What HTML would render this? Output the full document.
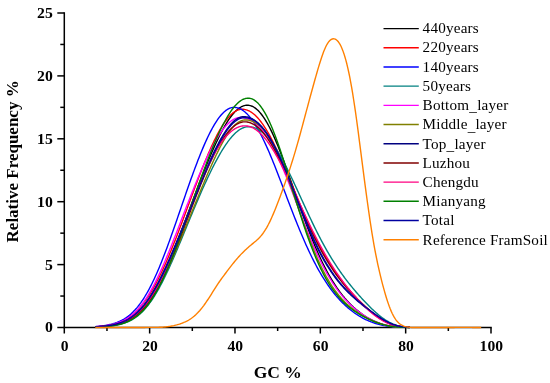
<!DOCTYPE html>
<html lang="en"><head><meta charset="utf-8"><title>GC % relative frequency</title>
<style>
html,body{margin:0;padding:0;background:#fff}
body{width:550px;height:383px;overflow:hidden}
svg{display:block}
</style></head><body>
<svg width="550" height="383" viewBox="0 0 550 383">
<rect width="550" height="383" fill="#fff"/>
<g stroke="#000" stroke-width="1.5" fill="none" stroke-linecap="butt">
<path d="M64.30,12.25 V328.25"/>
<path d="M63.55,327.50 H491.75"/>
<path d="M64.30,327.50 h-7"/>
<path d="M64.30,296.05 h-4"/>
<path d="M64.30,264.60 h-7"/>
<path d="M64.30,233.15 h-4"/>
<path d="M64.30,201.70 h-7"/>
<path d="M64.30,170.25 h-4"/>
<path d="M64.30,138.80 h-7"/>
<path d="M64.30,107.35 h-4"/>
<path d="M64.30,75.90 h-7"/>
<path d="M64.30,44.45 h-4"/>
<path d="M64.30,13.00 h-7"/>
<path d="M64.30,327.50 v6"/>
<path d="M106.97,327.50 v3.5"/>
<path d="M149.64,327.50 v6"/>
<path d="M192.31,327.50 v3.5"/>
<path d="M234.98,327.50 v6"/>
<path d="M277.65,327.50 v3.5"/>
<path d="M320.32,327.50 v6"/>
<path d="M362.99,327.50 v3.5"/>
<path d="M405.66,327.50 v6"/>
<path d="M448.33,327.50 v3.5"/>
<path d="M491.00,327.50 v6"/>
</g>
<g fill="none" stroke-width="1.4" stroke-linejoin="round">
<path stroke="#000000" d="M95.45,326.91 L96.42,326.86 L97.38,326.80 L98.35,326.75 L99.32,326.68 L100.28,326.62 L101.25,326.55 L102.22,326.47 L103.18,326.39 L104.15,326.30 L105.12,326.21 L106.08,326.11 L107.05,326.00 L108.02,325.88 L108.98,325.76 L109.95,325.62 L110.92,325.47 L111.88,325.32 L112.85,325.15 L113.82,324.96 L114.78,324.76 L115.75,324.55 L116.72,324.32 L117.68,324.07 L118.65,323.81 L119.62,323.52 L120.58,323.22 L121.55,322.90 L122.52,322.55 L123.49,322.18 L124.45,321.78 L125.42,321.36 L126.39,320.92 L127.35,320.44 L128.32,319.94 L129.29,319.40 L130.25,318.83 L131.22,318.23 L132.19,317.60 L133.15,316.93 L134.12,316.22 L135.09,315.48 L136.05,314.70 L137.02,313.88 L137.99,313.01 L138.95,312.11 L139.92,311.16 L140.89,310.17 L141.85,309.14 L142.82,308.06 L143.79,306.94 L144.75,305.77 L145.72,304.55 L146.69,303.29 L147.65,301.98 L148.62,300.63 L149.59,299.22 L150.55,297.77 L151.52,296.27 L152.49,294.73 L153.45,293.14 L154.42,291.50 L155.39,289.81 L156.35,288.08 L157.32,286.31 L158.29,284.49 L159.26,282.63 L160.22,280.72 L161.19,278.77 L162.16,276.79 L163.12,274.76 L164.09,272.69 L165.06,270.59 L166.02,268.45 L166.99,266.27 L167.96,264.07 L168.92,261.83 L169.89,259.55 L170.86,257.25 L171.82,254.92 L172.79,252.57 L173.76,250.19 L174.72,247.78 L175.69,245.36 L176.66,242.91 L177.62,240.45 L178.59,237.96 L179.56,235.47 L180.52,232.95 L181.49,230.42 L182.46,227.89 L183.42,225.34 L184.39,222.78 L185.36,220.22 L186.32,217.65 L187.29,215.07 L188.26,212.50 L189.22,209.92 L190.19,207.34 L191.16,204.76 L192.12,202.19 L193.09,199.61 L194.06,197.05 L195.03,194.49 L195.99,191.93 L196.96,189.39 L197.93,186.86 L198.89,184.34 L199.86,181.83 L200.83,179.33 L201.79,176.85 L202.76,174.39 L203.73,171.95 L204.69,169.52 L205.66,167.12 L206.63,164.73 L207.59,162.38 L208.56,160.04 L209.53,157.73 L210.49,155.45 L211.46,153.20 L212.43,150.98 L213.39,148.79 L214.36,146.64 L215.33,144.52 L216.29,142.44 L217.26,140.39 L218.23,138.39 L219.19,136.42 L220.16,134.51 L221.13,132.63 L222.09,130.80 L223.06,129.02 L224.03,127.30 L224.99,125.62 L225.96,124.00 L226.93,122.43 L227.90,120.92 L228.86,119.47 L229.83,118.08 L230.80,116.75 L231.76,115.49 L232.73,114.29 L233.70,113.17 L234.66,112.11 L235.63,111.12 L236.60,110.20 L237.56,109.36 L238.53,108.59 L239.50,107.90 L240.46,107.28 L241.43,106.74 L242.40,106.29 L243.36,105.91 L244.33,105.61 L245.30,105.40 L246.26,105.26 L247.23,105.21 L248.20,105.24 L249.16,105.36 L250.13,105.57 L251.10,105.86 L252.06,106.24 L253.03,106.71 L254.00,107.26 L254.96,107.90 L255.93,108.62 L256.90,109.43 L257.86,110.33 L258.83,111.30 L259.80,112.36 L260.76,113.51 L261.73,114.73 L262.70,116.03 L263.67,117.42 L264.63,118.88 L265.60,120.41 L266.57,122.02 L267.53,123.71 L268.50,125.47 L269.47,127.29 L270.43,129.19 L271.40,131.15 L272.37,133.17 L273.33,135.26 L274.30,137.41 L275.27,139.61 L276.23,141.87 L277.20,144.18 L278.17,146.53 L279.13,148.94 L280.10,151.39 L281.07,153.88 L282.03,156.41 L283.00,158.98 L283.97,161.58 L284.93,164.21 L285.90,166.86 L286.87,169.54 L287.83,172.24 L288.80,174.96 L289.77,177.70 L290.73,180.44 L291.70,183.20 L292.67,185.96 L293.63,188.73 L294.60,191.50 L295.57,194.27 L296.53,197.03 L297.50,199.79 L298.47,202.53 L299.44,205.27 L300.40,207.99 L301.37,210.70 L302.34,213.39 L303.30,216.05 L304.27,218.70 L305.24,221.32 L306.20,223.92 L307.17,226.49 L308.14,229.03 L309.10,231.54 L310.07,234.02 L311.04,236.46 L312.00,238.88 L312.97,241.25 L313.94,243.59 L314.90,245.90 L315.87,248.17 L316.84,250.39 L317.80,252.58 L318.77,254.73 L319.74,256.85 L320.70,258.92 L321.67,260.95 L322.64,262.94 L323.60,264.89 L324.57,266.80 L325.54,268.67 L326.50,270.50 L327.47,272.29 L328.44,274.05 L329.40,275.76 L330.37,277.43 L331.34,279.07 L332.31,280.66 L333.27,282.22 L334.24,283.74 L335.21,285.23 L336.17,286.67 L337.14,288.09 L338.11,289.47 L339.07,290.81 L340.04,292.12 L341.01,293.40 L341.97,294.64 L342.94,295.85 L343.91,297.03 L344.87,298.19 L345.84,299.31 L346.81,300.40 L347.77,301.46 L348.74,302.49 L349.71,303.50 L350.67,304.48 L351.64,305.44 L352.61,306.36 L353.57,307.27 L354.54,308.14 L355.51,309.00 L356.47,309.82 L357.44,310.63 L358.41,311.41 L359.37,312.17 L360.34,312.91 L361.31,313.63 L362.27,314.32 L363.24,314.99 L364.21,315.65 L365.17,316.28 L366.14,316.89 L367.11,317.48 L368.08,318.05 L369.04,318.60 L370.01,319.13 L370.98,319.65 L371.94,320.14 L372.91,320.61 L373.88,321.07 L374.84,321.50 L375.81,321.92 L376.78,322.32 L377.74,322.70 L378.71,323.06 L379.68,323.41 L380.64,323.73 L381.61,324.04 L382.58,324.34 L383.54,324.61 L384.51,324.87 L385.48,325.11 L386.44,325.34 L387.41,325.55 L388.38,325.75 L389.34,325.93 L390.31,326.10 L391.28,326.26 L392.24,326.40 L393.21,326.53 L394.18,326.65 L395.14,326.76 L396.11,326.85 L397.08,326.94 L398.04,327.01 L399.01,327.08 L399.98,327.14 L400.94,327.19 L401.91,327.23 L402.88,327.27 L403.85,327.30 L404.81,327.33 L405.78,327.36 L406.75,327.38 L407.71,327.40 L408.68,327.41 L409.65,327.43"/>
<path stroke="#ff0000" d="M95.45,326.77 L96.42,326.70 L97.38,326.62 L98.35,326.54 L99.32,326.46 L100.28,326.36 L101.25,326.26 L102.22,326.15 L103.18,326.04 L104.15,325.91 L105.12,325.77 L106.08,325.63 L107.05,325.47 L108.02,325.30 L108.98,325.12 L109.95,324.93 L110.92,324.72 L111.88,324.50 L112.85,324.26 L113.82,324.00 L114.78,323.73 L115.75,323.44 L116.72,323.13 L117.68,322.80 L118.65,322.44 L119.62,322.07 L120.58,321.67 L121.55,321.25 L122.52,320.80 L123.49,320.33 L124.45,319.83 L125.42,319.30 L126.39,318.74 L127.35,318.15 L128.32,317.53 L129.29,316.88 L130.25,316.19 L131.22,315.47 L132.19,314.72 L133.15,313.93 L134.12,313.10 L135.09,312.24 L136.05,311.33 L137.02,310.39 L137.99,309.41 L138.95,308.39 L139.92,307.32 L140.89,306.21 L141.85,305.07 L142.82,303.87 L143.79,302.64 L144.75,301.36 L145.72,300.04 L146.69,298.68 L147.65,297.27 L148.62,295.81 L149.59,294.32 L150.55,292.77 L151.52,291.19 L152.49,289.56 L153.45,287.89 L154.42,286.17 L155.39,284.41 L156.35,282.61 L157.32,280.77 L158.29,278.88 L159.26,276.96 L160.22,274.99 L161.19,272.99 L162.16,270.95 L163.12,268.87 L164.09,266.75 L165.06,264.60 L166.02,262.41 L166.99,260.19 L167.96,257.94 L168.92,255.65 L169.89,253.34 L170.86,251.00 L171.82,248.63 L172.79,246.23 L173.76,243.81 L174.72,241.37 L175.69,238.90 L176.66,236.41 L177.62,233.91 L178.59,231.38 L179.56,228.84 L180.52,226.29 L181.49,223.72 L182.46,221.14 L183.42,218.55 L184.39,215.95 L185.36,213.35 L186.32,210.74 L187.29,208.12 L188.26,205.51 L189.22,202.89 L190.19,200.27 L191.16,197.66 L192.12,195.06 L193.09,192.45 L194.06,189.86 L195.03,187.28 L195.99,184.71 L196.96,182.15 L197.93,179.61 L198.89,177.08 L199.86,174.57 L200.83,172.09 L201.79,169.62 L202.76,167.18 L203.73,164.77 L204.69,162.38 L205.66,160.02 L206.63,157.69 L207.59,155.40 L208.56,153.14 L209.53,150.92 L210.49,148.73 L211.46,146.59 L212.43,144.48 L213.39,142.43 L214.36,140.41 L215.33,138.45 L216.29,136.53 L217.26,134.67 L218.23,132.86 L219.19,131.10 L220.16,129.40 L221.13,127.76 L222.09,126.17 L223.06,124.65 L224.03,123.19 L224.99,121.80 L225.96,120.47 L226.93,119.21 L227.90,118.02 L228.86,116.90 L229.83,115.85 L230.80,114.88 L231.76,113.98 L232.73,113.15 L233.70,112.40 L234.66,111.73 L235.63,111.14 L236.60,110.62 L237.56,110.19 L238.53,109.84 L239.50,109.57 L240.46,109.37 L241.43,109.27 L242.40,109.24 L243.36,109.28 L244.33,109.40 L245.30,109.58 L246.26,109.83 L247.23,110.14 L248.20,110.53 L249.16,110.98 L250.13,111.50 L251.10,112.08 L252.06,112.74 L253.03,113.46 L254.00,114.24 L254.96,115.09 L255.93,116.01 L256.90,116.99 L257.86,118.03 L258.83,119.14 L259.80,120.31 L260.76,121.54 L261.73,122.83 L262.70,124.17 L263.67,125.58 L264.63,127.04 L265.60,128.56 L266.57,130.14 L267.53,131.76 L268.50,133.44 L269.47,135.17 L270.43,136.94 L271.40,138.76 L272.37,140.63 L273.33,142.53 L274.30,144.48 L275.27,146.47 L276.23,148.49 L277.20,150.55 L278.17,152.64 L279.13,154.77 L280.10,156.92 L281.07,159.09 L282.03,161.30 L283.00,163.52 L283.97,165.76 L284.93,168.03 L285.90,170.30 L286.87,172.60 L287.83,174.90 L288.80,177.21 L289.77,179.53 L290.73,181.86 L291.70,184.19 L292.67,186.52 L293.63,188.85 L294.60,191.17 L295.57,193.50 L296.53,195.81 L297.50,198.12 L298.47,200.42 L299.44,202.71 L300.40,204.99 L301.37,207.25 L302.34,209.50 L303.30,211.73 L304.27,213.95 L305.24,216.14 L306.20,218.32 L307.17,220.48 L308.14,222.61 L309.10,224.72 L310.07,226.80 L311.04,228.87 L312.00,230.90 L312.97,232.92 L313.94,234.90 L314.90,236.86 L315.87,238.80 L316.84,240.70 L317.80,242.58 L318.77,244.43 L319.74,246.25 L320.70,248.05 L321.67,249.82 L322.64,251.56 L323.60,253.27 L324.57,254.96 L325.54,256.62 L326.50,258.25 L327.47,259.85 L328.44,261.43 L329.40,262.98 L330.37,264.51 L331.34,266.01 L332.31,267.49 L333.27,268.94 L334.24,270.37 L335.21,271.77 L336.17,273.15 L337.14,274.51 L338.11,275.85 L339.07,277.17 L340.04,278.46 L341.01,279.74 L341.97,281.00 L342.94,282.23 L343.91,283.45 L344.87,284.66 L345.84,285.84 L346.81,287.01 L347.77,288.16 L348.74,289.29 L349.71,290.41 L350.67,291.52 L351.64,292.61 L352.61,293.69 L353.57,294.75 L354.54,295.80 L355.51,296.83 L356.47,297.86 L357.44,298.87 L358.41,299.87 L359.37,300.85 L360.34,301.82 L361.31,302.79 L362.27,303.73 L363.24,304.67 L364.21,305.59 L365.17,306.50 L366.14,307.40 L367.11,308.28 L368.08,309.15 L369.04,310.00 L370.01,310.84 L370.98,311.67 L371.94,312.47 L372.91,313.26 L373.88,314.04 L374.84,314.79 L375.81,315.53 L376.78,316.25 L377.74,316.94 L378.71,317.62 L379.68,318.27 L380.64,318.91 L381.61,319.52 L382.58,320.10 L383.54,320.66 L384.51,321.20 L385.48,321.72 L386.44,322.20 L387.41,322.67 L388.38,323.11 L389.34,323.52 L390.31,323.90 L391.28,324.27 L392.24,324.60 L393.21,324.92 L394.18,325.21 L395.14,325.47 L396.11,325.71 L397.08,325.94 L398.04,326.14 L399.01,326.32 L399.98,326.48 L400.94,326.63 L401.91,326.76 L402.88,326.87 L403.85,326.97 L404.81,327.05 L405.78,327.12 L406.75,327.18 L407.71,327.24 L408.68,327.28 L409.65,327.32"/>
<path stroke="#0000ff" d="M95.45,326.60 L96.42,326.52 L97.38,326.43 L98.35,326.34 L99.32,326.24 L100.28,326.14 L101.25,326.02 L102.22,325.90 L103.18,325.77 L104.15,325.63 L105.12,325.48 L106.08,325.32 L107.05,325.15 L108.02,324.97 L108.98,324.77 L109.95,324.55 L110.92,324.32 L111.88,324.07 L112.85,323.81 L113.82,323.52 L114.78,323.22 L115.75,322.89 L116.72,322.54 L117.68,322.16 L118.65,321.76 L119.62,321.33 L120.58,320.88 L121.55,320.40 L122.52,319.88 L123.49,319.34 L124.45,318.76 L125.42,318.14 L126.39,317.49 L127.35,316.80 L128.32,316.08 L129.29,315.31 L130.25,314.51 L131.22,313.66 L132.19,312.76 L133.15,311.83 L134.12,310.84 L135.09,309.81 L136.05,308.73 L137.02,307.61 L137.99,306.43 L138.95,305.20 L139.92,303.93 L140.89,302.60 L141.85,301.21 L142.82,299.78 L143.79,298.29 L144.75,296.75 L145.72,295.16 L146.69,293.51 L147.65,291.81 L148.62,290.06 L149.59,288.25 L150.55,286.39 L151.52,284.48 L152.49,282.52 L153.45,280.50 L154.42,278.44 L155.39,276.33 L156.35,274.17 L157.32,271.96 L158.29,269.71 L159.26,267.42 L160.22,265.08 L161.19,262.70 L162.16,260.28 L163.12,257.82 L164.09,255.33 L165.06,252.80 L166.02,250.24 L166.99,247.64 L167.96,245.02 L168.92,242.37 L169.89,239.70 L170.86,237.00 L171.82,234.28 L172.79,231.54 L173.76,228.78 L174.72,226.01 L175.69,223.22 L176.66,220.43 L177.62,217.62 L178.59,214.81 L179.56,212.00 L180.52,209.18 L181.49,206.36 L182.46,203.54 L183.42,200.73 L184.39,197.92 L185.36,195.12 L186.32,192.33 L187.29,189.55 L188.26,186.79 L189.22,184.04 L190.19,181.31 L191.16,178.60 L192.12,175.92 L193.09,173.25 L194.06,170.62 L195.03,168.01 L195.99,165.43 L196.96,162.89 L197.93,160.37 L198.89,157.90 L199.86,155.46 L200.83,153.06 L201.79,150.70 L202.76,148.39 L203.73,146.12 L204.69,143.90 L205.66,141.72 L206.63,139.60 L207.59,137.53 L208.56,135.51 L209.53,133.55 L210.49,131.65 L211.46,129.81 L212.43,128.03 L213.39,126.31 L214.36,124.66 L215.33,123.07 L216.29,121.55 L217.26,120.10 L218.23,118.72 L219.19,117.41 L220.16,116.18 L221.13,115.03 L222.09,113.94 L223.06,112.94 L224.03,112.02 L224.99,111.18 L225.96,110.42 L226.93,109.74 L227.90,109.14 L228.86,108.63 L229.83,108.20 L230.80,107.86 L231.76,107.61 L232.73,107.44 L233.70,107.36 L234.66,107.36 L235.63,107.44 L236.60,107.59 L237.56,107.82 L238.53,108.12 L239.50,108.49 L240.46,108.94 L241.43,109.46 L242.40,110.06 L243.36,110.73 L244.33,111.47 L245.30,112.28 L246.26,113.16 L247.23,114.11 L248.20,115.14 L249.16,116.23 L250.13,117.39 L251.10,118.62 L252.06,119.92 L253.03,121.28 L254.00,122.70 L254.96,124.19 L255.93,125.74 L256.90,127.36 L257.86,129.03 L258.83,130.76 L259.80,132.54 L260.76,134.38 L261.73,136.27 L262.70,138.22 L263.67,140.21 L264.63,142.25 L265.60,144.33 L266.57,146.46 L267.53,148.63 L268.50,150.84 L269.47,153.09 L270.43,155.37 L271.40,157.69 L272.37,160.04 L273.33,162.41 L274.30,164.81 L275.27,167.24 L276.23,169.69 L277.20,172.15 L278.17,174.64 L279.13,177.14 L280.10,179.65 L281.07,182.17 L282.03,184.71 L283.00,187.24 L283.97,189.78 L284.93,192.33 L285.90,194.87 L286.87,197.41 L287.83,199.95 L288.80,202.48 L289.77,205.01 L290.73,207.52 L291.70,210.02 L292.67,212.51 L293.63,214.99 L294.60,217.44 L295.57,219.88 L296.53,222.31 L297.50,224.70 L298.47,227.08 L299.44,229.44 L300.40,231.77 L301.37,234.07 L302.34,236.35 L303.30,238.60 L304.27,240.82 L305.24,243.01 L306.20,245.17 L307.17,247.30 L308.14,249.40 L309.10,251.47 L310.07,253.50 L311.04,255.50 L312.00,257.47 L312.97,259.41 L313.94,261.31 L314.90,263.18 L315.87,265.01 L316.84,266.81 L317.80,268.58 L318.77,270.31 L319.74,272.00 L320.70,273.67 L321.67,275.30 L322.64,276.89 L323.60,278.45 L324.57,279.98 L325.54,281.48 L326.50,282.94 L327.47,284.37 L328.44,285.77 L329.40,287.13 L330.37,288.47 L331.34,289.77 L332.31,291.05 L333.27,292.29 L334.24,293.50 L335.21,294.69 L336.17,295.85 L337.14,296.97 L338.11,298.07 L339.07,299.15 L340.04,300.19 L341.01,301.21 L341.97,302.20 L342.94,303.17 L343.91,304.11 L344.87,305.03 L345.84,305.93 L346.81,306.80 L347.77,307.64 L348.74,308.47 L349.71,309.27 L350.67,310.05 L351.64,310.80 L352.61,311.54 L353.57,312.25 L354.54,312.95 L355.51,313.62 L356.47,314.27 L357.44,314.91 L358.41,315.52 L359.37,316.12 L360.34,316.69 L361.31,317.25 L362.27,317.79 L363.24,318.31 L364.21,318.81 L365.17,319.30 L366.14,319.76 L367.11,320.22 L368.08,320.65 L369.04,321.07 L370.01,321.47 L370.98,321.85 L371.94,322.22 L372.91,322.57 L373.88,322.91 L374.84,323.23 L375.81,323.53 L376.78,323.82 L377.74,324.10 L378.71,324.36 L379.68,324.61 L380.64,324.85 L381.61,325.07 L382.58,325.27 L383.54,325.47 L384.51,325.65 L385.48,325.82 L386.44,325.98 L387.41,326.13 L388.38,326.27 L389.34,326.39 L390.31,326.51 L391.28,326.62 L392.24,326.72 L393.21,326.81 L394.18,326.89 L395.14,326.96 L396.11,327.03 L397.08,327.08 L398.04,327.14 L399.01,327.18 L399.98,327.22 L400.94,327.26 L401.91,327.29 L402.88,327.32 L403.85,327.34 L404.81,327.36 L405.78,327.38 L406.75,327.40 L407.71,327.41 L408.68,327.43 L409.65,327.44"/>
<path stroke="#008080" d="M95.45,327.04 L96.42,327.01 L97.38,326.97 L98.35,326.92 L99.32,326.88 L100.28,326.83 L101.25,326.78 L102.22,326.72 L103.18,326.66 L104.15,326.60 L105.12,326.53 L106.08,326.45 L107.05,326.37 L108.02,326.29 L108.98,326.19 L109.95,326.09 L110.92,325.98 L111.88,325.86 L112.85,325.73 L113.82,325.59 L114.78,325.44 L115.75,325.27 L116.72,325.09 L117.68,324.90 L118.65,324.69 L119.62,324.46 L120.58,324.22 L121.55,323.96 L122.52,323.68 L123.49,323.38 L124.45,323.06 L125.42,322.72 L126.39,322.35 L127.35,321.95 L128.32,321.53 L129.29,321.08 L130.25,320.61 L131.22,320.10 L132.19,319.56 L133.15,318.99 L134.12,318.38 L135.09,317.74 L136.05,317.06 L137.02,316.34 L137.99,315.59 L138.95,314.80 L139.92,313.96 L140.89,313.08 L141.85,312.16 L142.82,311.20 L143.79,310.19 L144.75,309.14 L145.72,308.04 L146.69,306.90 L147.65,305.70 L148.62,304.47 L149.59,303.18 L150.55,301.85 L151.52,300.48 L152.49,299.05 L153.45,297.58 L154.42,296.06 L155.39,294.50 L156.35,292.90 L157.32,291.24 L158.29,289.55 L159.26,287.81 L160.22,286.03 L161.19,284.21 L162.16,282.35 L163.12,280.45 L164.09,278.52 L165.06,276.55 L166.02,274.55 L166.99,272.51 L167.96,270.44 L168.92,268.34 L169.89,266.22 L170.86,264.06 L171.82,261.89 L172.79,259.69 L173.76,257.47 L174.72,255.22 L175.69,252.97 L176.66,250.69 L177.62,248.40 L178.59,246.10 L179.56,243.79 L180.52,241.46 L181.49,239.13 L182.46,236.79 L183.42,234.45 L184.39,232.10 L185.36,229.76 L186.32,227.41 L187.29,225.06 L188.26,222.71 L189.22,220.37 L190.19,218.03 L191.16,215.70 L192.12,213.38 L193.09,211.06 L194.06,208.75 L195.03,206.46 L195.99,204.17 L196.96,201.90 L197.93,199.64 L198.89,197.40 L199.86,195.17 L200.83,192.96 L201.79,190.77 L202.76,188.59 L203.73,186.43 L204.69,184.30 L205.66,182.18 L206.63,180.09 L207.59,178.02 L208.56,175.97 L209.53,173.95 L210.49,171.96 L211.46,169.99 L212.43,168.05 L213.39,166.14 L214.36,164.26 L215.33,162.40 L216.29,160.59 L217.26,158.80 L218.23,157.05 L219.19,155.33 L220.16,153.65 L221.13,152.01 L222.09,150.41 L223.06,148.85 L224.03,147.33 L224.99,145.85 L225.96,144.42 L226.93,143.03 L227.90,141.69 L228.86,140.40 L229.83,139.16 L230.80,137.96 L231.76,136.83 L232.73,135.74 L233.70,134.71 L234.66,133.74 L235.63,132.83 L236.60,131.97 L237.56,131.18 L238.53,130.45 L239.50,129.78 L240.46,129.17 L241.43,128.63 L242.40,128.16 L243.36,127.75 L244.33,127.41 L245.30,127.14 L246.26,126.93 L247.23,126.80 L248.20,126.73 L249.16,126.73 L250.13,126.79 L251.10,126.90 L252.06,127.07 L253.03,127.29 L254.00,127.57 L254.96,127.91 L255.93,128.30 L256.90,128.74 L257.86,129.24 L258.83,129.80 L259.80,130.41 L260.76,131.08 L261.73,131.80 L262.70,132.58 L263.67,133.41 L264.63,134.30 L265.60,135.24 L266.57,136.23 L267.53,137.28 L268.50,138.38 L269.47,139.54 L270.43,140.74 L271.40,142.00 L272.37,143.30 L273.33,144.66 L274.30,146.06 L275.27,147.51 L276.23,149.01 L277.20,150.55 L278.17,152.13 L279.13,153.76 L280.10,155.43 L281.07,157.14 L282.03,158.88 L283.00,160.66 L283.97,162.47 L284.93,164.32 L285.90,166.20 L286.87,168.11 L287.83,170.04 L288.80,172.00 L289.77,173.98 L290.73,175.99 L291.70,178.02 L292.67,180.06 L293.63,182.12 L294.60,184.19 L295.57,186.27 L296.53,188.37 L297.50,190.47 L298.47,192.58 L299.44,194.70 L300.40,196.81 L301.37,198.93 L302.34,201.05 L303.30,203.16 L304.27,205.28 L305.24,207.38 L306.20,209.48 L307.17,211.57 L308.14,213.65 L309.10,215.72 L310.07,217.77 L311.04,219.81 L312.00,221.84 L312.97,223.85 L313.94,225.84 L314.90,227.82 L315.87,229.77 L316.84,231.71 L317.80,233.62 L318.77,235.52 L319.74,237.39 L320.70,239.24 L321.67,241.07 L322.64,242.88 L323.60,244.66 L324.57,246.42 L325.54,248.15 L326.50,249.86 L327.47,251.55 L328.44,253.21 L329.40,254.85 L330.37,256.47 L331.34,258.06 L332.31,259.63 L333.27,261.17 L334.24,262.69 L335.21,264.19 L336.17,265.67 L337.14,267.13 L338.11,268.56 L339.07,269.98 L340.04,271.37 L341.01,272.74 L341.97,274.10 L342.94,275.43 L343.91,276.75 L344.87,278.05 L345.84,279.33 L346.81,280.59 L347.77,281.84 L348.74,283.07 L349.71,284.29 L350.67,285.49 L351.64,286.68 L352.61,287.86 L353.57,289.02 L354.54,290.17 L355.51,291.31 L356.47,292.43 L357.44,293.55 L358.41,294.65 L359.37,295.74 L360.34,296.82 L361.31,297.89 L362.27,298.95 L363.24,299.99 L364.21,301.03 L365.17,302.05 L366.14,303.07 L367.11,304.07 L368.08,305.06 L369.04,306.03 L370.01,307.00 L370.98,307.95 L371.94,308.88 L372.91,309.80 L373.88,310.71 L374.84,311.59 L375.81,312.46 L376.78,313.31 L377.74,314.15 L378.71,314.96 L379.68,315.75 L380.64,316.51 L381.61,317.26 L382.58,317.98 L383.54,318.67 L384.51,319.34 L385.48,319.98 L386.44,320.59 L387.41,321.17 L388.38,321.73 L389.34,322.25 L390.31,322.75 L391.28,323.21 L392.24,323.65 L393.21,324.06 L394.18,324.43 L395.14,324.78 L396.11,325.10 L397.08,325.40 L398.04,325.66 L399.01,325.91 L399.98,326.12 L400.94,326.32 L401.91,326.49 L402.88,326.65 L403.85,326.78 L404.81,326.90 L405.78,327.00 L406.75,327.08 L407.71,327.16 L408.68,327.22 L409.65,327.27"/>
<path stroke="#ff00ff" d="M95.45,326.67 L96.42,326.61 L97.38,326.53 L98.35,326.46 L99.32,326.37 L100.28,326.28 L101.25,326.19 L102.22,326.09 L103.18,325.98 L104.15,325.86 L105.12,325.74 L106.08,325.60 L107.05,325.46 L108.02,325.31 L108.98,325.14 L109.95,324.96 L110.92,324.77 L111.88,324.56 L112.85,324.34 L113.82,324.09 L114.78,323.84 L115.75,323.56 L116.72,323.26 L117.68,322.94 L118.65,322.60 L119.62,322.23 L120.58,321.84 L121.55,321.42 L122.52,320.98 L123.49,320.51 L124.45,320.00 L125.42,319.47 L126.39,318.90 L127.35,318.30 L128.32,317.67 L129.29,316.99 L130.25,316.28 L131.22,315.54 L132.19,314.75 L133.15,313.92 L134.12,313.05 L135.09,312.13 L136.05,311.17 L137.02,310.17 L137.99,309.12 L138.95,308.03 L139.92,306.89 L140.89,305.70 L141.85,304.46 L142.82,303.17 L143.79,301.84 L144.75,300.46 L145.72,299.03 L146.69,297.55 L147.65,296.02 L148.62,294.44 L149.59,292.82 L150.55,291.15 L151.52,289.43 L152.49,287.66 L153.45,285.85 L154.42,284.00 L155.39,282.10 L156.35,280.16 L157.32,278.18 L158.29,276.16 L159.26,274.10 L160.22,272.00 L161.19,269.87 L162.16,267.70 L163.12,265.50 L164.09,263.26 L165.06,261.00 L166.02,258.71 L166.99,256.39 L167.96,254.05 L168.92,251.69 L169.89,249.30 L170.86,246.90 L171.82,244.47 L172.79,242.03 L173.76,239.58 L174.72,237.11 L175.69,234.63 L176.66,232.15 L177.62,229.65 L178.59,227.15 L179.56,224.64 L180.52,222.13 L181.49,219.62 L182.46,217.11 L183.42,214.61 L184.39,212.10 L185.36,209.60 L186.32,207.10 L187.29,204.61 L188.26,202.14 L189.22,199.67 L190.19,197.21 L191.16,194.76 L192.12,192.33 L193.09,189.91 L194.06,187.51 L195.03,185.13 L195.99,182.76 L196.96,180.42 L197.93,178.10 L198.89,175.80 L199.86,173.52 L200.83,171.27 L201.79,169.04 L202.76,166.84 L203.73,164.67 L204.69,162.53 L205.66,160.43 L206.63,158.35 L207.59,156.31 L208.56,154.30 L209.53,152.33 L210.49,150.40 L211.46,148.51 L212.43,146.65 L213.39,144.84 L214.36,143.08 L215.33,141.36 L216.29,139.69 L217.26,138.06 L218.23,136.49 L219.19,134.96 L220.16,133.49 L221.13,132.08 L222.09,130.72 L223.06,129.41 L224.03,128.17 L224.99,126.99 L225.96,125.87 L226.93,124.81 L227.90,123.82 L228.86,122.90 L229.83,122.04 L230.80,121.26 L231.76,120.54 L232.73,119.89 L233.70,119.32 L234.66,118.82 L235.63,118.40 L236.60,118.05 L237.56,117.78 L238.53,117.58 L239.50,117.46 L240.46,117.41 L241.43,117.43 L242.40,117.50 L243.36,117.62 L244.33,117.79 L245.30,118.00 L246.26,118.27 L247.23,118.58 L248.20,118.95 L249.16,119.36 L250.13,119.83 L251.10,120.35 L252.06,120.92 L253.03,121.55 L254.00,122.23 L254.96,122.96 L255.93,123.75 L256.90,124.60 L257.86,125.50 L258.83,126.46 L259.80,127.48 L260.76,128.56 L261.73,129.69 L262.70,130.88 L263.67,132.14 L264.63,133.45 L265.60,134.82 L266.57,136.24 L267.53,137.73 L268.50,139.27 L269.47,140.87 L270.43,142.53 L271.40,144.24 L272.37,146.01 L273.33,147.83 L274.30,149.71 L275.27,151.63 L276.23,153.61 L277.20,155.63 L278.17,157.70 L279.13,159.82 L280.10,161.98 L281.07,164.18 L282.03,166.43 L283.00,168.70 L283.97,171.02 L284.93,173.37 L285.90,175.74 L286.87,178.15 L287.83,180.58 L288.80,183.04 L289.77,185.51 L290.73,188.00 L291.70,190.51 L292.67,193.03 L293.63,195.57 L294.60,198.11 L295.57,200.65 L296.53,203.20 L297.50,205.75 L298.47,208.29 L299.44,210.83 L300.40,213.37 L301.37,215.89 L302.34,218.40 L303.30,220.90 L304.27,223.38 L305.24,225.85 L306.20,228.29 L307.17,230.71 L308.14,233.11 L309.10,235.48 L310.07,237.83 L311.04,240.15 L312.00,242.44 L312.97,244.69 L313.94,246.92 L314.90,249.11 L315.87,251.27 L316.84,253.39 L317.80,255.48 L318.77,257.53 L319.74,259.55 L320.70,261.52 L321.67,263.46 L322.64,265.36 L323.60,267.23 L324.57,269.05 L325.54,270.84 L326.50,272.58 L327.47,274.29 L328.44,275.97 L329.40,277.60 L330.37,279.20 L331.34,280.75 L332.31,282.28 L333.27,283.76 L334.24,285.21 L335.21,286.62 L336.17,288.00 L337.14,289.34 L338.11,290.65 L339.07,291.93 L340.04,293.18 L341.01,294.39 L341.97,295.57 L342.94,296.72 L343.91,297.84 L344.87,298.93 L345.84,299.99 L346.81,301.03 L347.77,302.03 L348.74,303.01 L349.71,303.97 L350.67,304.90 L351.64,305.80 L352.61,306.68 L353.57,307.54 L354.54,308.37 L355.51,309.18 L356.47,309.97 L357.44,310.74 L358.41,311.49 L359.37,312.21 L360.34,312.92 L361.31,313.60 L362.27,314.27 L363.24,314.92 L364.21,315.55 L365.17,316.16 L366.14,316.75 L367.11,317.33 L368.08,317.88 L369.04,318.42 L370.01,318.94 L370.98,319.45 L371.94,319.93 L372.91,320.40 L373.88,320.85 L374.84,321.29 L375.81,321.71 L376.78,322.11 L377.74,322.49 L378.71,322.86 L379.68,323.21 L380.64,323.55 L381.61,323.87 L382.58,324.17 L383.54,324.45 L384.51,324.72 L385.48,324.98 L386.44,325.21 L387.41,325.44 L388.38,325.64 L389.34,325.84 L390.31,326.02 L391.28,326.18 L392.24,326.33 L393.21,326.47 L394.18,326.60 L395.14,326.71 L396.11,326.82 L397.08,326.91 L398.04,326.99 L399.01,327.06 L399.98,327.12 L400.94,327.18 L401.91,327.22 L402.88,327.26 L403.85,327.30 L404.81,327.33 L405.78,327.36 L406.75,327.38 L407.71,327.40 L408.68,327.41 L409.65,327.43"/>
<path stroke="#808000" d="M95.45,326.97 L96.42,326.93 L97.38,326.88 L98.35,326.83 L99.32,326.78 L100.28,326.72 L101.25,326.66 L102.22,326.60 L103.18,326.53 L104.15,326.46 L105.12,326.38 L106.08,326.30 L107.05,326.21 L108.02,326.12 L108.98,326.01 L109.95,325.90 L110.92,325.78 L111.88,325.64 L112.85,325.50 L113.82,325.34 L114.78,325.17 L115.75,324.99 L116.72,324.79 L117.68,324.58 L118.65,324.35 L119.62,324.10 L120.58,323.84 L121.55,323.55 L122.52,323.24 L123.49,322.91 L124.45,322.56 L125.42,322.18 L126.39,321.78 L127.35,321.35 L128.32,320.89 L129.29,320.40 L130.25,319.89 L131.22,319.33 L132.19,318.75 L133.15,318.13 L134.12,317.48 L135.09,316.79 L136.05,316.06 L137.02,315.29 L137.99,314.49 L138.95,313.64 L139.92,312.75 L140.89,311.82 L141.85,310.85 L142.82,309.83 L143.79,308.77 L144.75,307.67 L145.72,306.52 L146.69,305.32 L147.65,304.08 L148.62,302.80 L149.59,301.47 L150.55,300.09 L151.52,298.67 L152.49,297.21 L153.45,295.70 L154.42,294.15 L155.39,292.55 L156.35,290.92 L157.32,289.24 L158.29,287.52 L159.26,285.77 L160.22,283.97 L161.19,282.14 L162.16,280.27 L163.12,278.37 L164.09,276.43 L165.06,274.47 L166.02,272.47 L166.99,270.44 L167.96,268.38 L168.92,266.29 L169.89,264.18 L170.86,262.04 L171.82,259.89 L172.79,257.70 L173.76,255.50 L174.72,253.28 L175.69,251.04 L176.66,248.79 L177.62,246.52 L178.59,244.23 L179.56,241.94 L180.52,239.63 L181.49,237.30 L182.46,234.97 L183.42,232.64 L184.39,230.29 L185.36,227.93 L186.32,225.58 L187.29,223.21 L188.26,220.84 L189.22,218.47 L190.19,216.10 L191.16,213.72 L192.12,211.35 L193.09,208.98 L194.06,206.60 L195.03,204.23 L195.99,201.87 L196.96,199.50 L197.93,197.15 L198.89,194.80 L199.86,192.45 L200.83,190.11 L201.79,187.79 L202.76,185.47 L203.73,183.16 L204.69,180.87 L205.66,178.59 L206.63,176.32 L207.59,174.07 L208.56,171.84 L209.53,169.63 L210.49,167.44 L211.46,165.27 L212.43,163.12 L213.39,161.00 L214.36,158.91 L215.33,156.85 L216.29,154.82 L217.26,152.82 L218.23,150.86 L219.19,148.93 L220.16,147.05 L221.13,145.21 L222.09,143.41 L223.06,141.66 L224.03,139.96 L224.99,138.31 L225.96,136.72 L226.93,135.18 L227.90,133.71 L228.86,132.29 L229.83,130.94 L230.80,129.66 L231.76,128.45 L232.73,127.31 L233.70,126.24 L234.66,125.25 L235.63,124.34 L236.60,123.51 L237.56,122.76 L238.53,122.10 L239.50,121.52 L240.46,121.03 L241.43,120.63 L242.40,120.32 L243.36,120.10 L244.33,119.97 L245.30,119.93 L246.26,119.96 L247.23,120.04 L248.20,120.17 L249.16,120.35 L250.13,120.58 L251.10,120.87 L252.06,121.21 L253.03,121.60 L254.00,122.05 L254.96,122.56 L255.93,123.12 L256.90,123.74 L257.86,124.43 L258.83,125.17 L259.80,125.98 L260.76,126.85 L261.73,127.79 L262.70,128.79 L263.67,129.86 L264.63,131.00 L265.60,132.20 L266.57,133.48 L267.53,134.82 L268.50,136.24 L269.47,137.72 L270.43,139.28 L271.40,140.91 L272.37,142.60 L273.33,144.37 L274.30,146.20 L275.27,148.11 L276.23,150.07 L277.20,152.11 L278.17,154.20 L279.13,156.36 L280.10,158.58 L281.07,160.86 L282.03,163.19 L283.00,165.57 L283.97,168.01 L284.93,170.49 L285.90,173.02 L286.87,175.58 L287.83,178.19 L288.80,180.83 L289.77,183.50 L290.73,186.20 L291.70,188.93 L292.67,191.67 L293.63,194.43 L294.60,197.21 L295.57,199.99 L296.53,202.79 L297.50,205.58 L298.47,208.37 L299.44,211.16 L300.40,213.94 L301.37,216.71 L302.34,219.47 L303.30,222.21 L304.27,224.92 L305.24,227.62 L306.20,230.28 L307.17,232.92 L308.14,235.53 L309.10,238.10 L310.07,240.64 L311.04,243.14 L312.00,245.60 L312.97,248.02 L313.94,250.40 L314.90,252.73 L315.87,255.01 L316.84,257.26 L317.80,259.45 L318.77,261.59 L319.74,263.69 L320.70,265.74 L321.67,267.74 L322.64,269.69 L323.60,271.59 L324.57,273.44 L325.54,275.25 L326.50,277.00 L327.47,278.71 L328.44,280.36 L329.40,281.97 L330.37,283.54 L331.34,285.06 L332.31,286.53 L333.27,287.96 L334.24,289.35 L335.21,290.69 L336.17,291.99 L337.14,293.25 L338.11,294.48 L339.07,295.66 L340.04,296.81 L341.01,297.92 L341.97,299.00 L342.94,300.04 L343.91,301.05 L344.87,302.03 L345.84,302.97 L346.81,303.89 L347.77,304.78 L348.74,305.65 L349.71,306.48 L350.67,307.29 L351.64,308.08 L352.61,308.85 L353.57,309.59 L354.54,310.31 L355.51,311.01 L356.47,311.69 L357.44,312.35 L358.41,312.99 L359.37,313.62 L360.34,314.22 L361.31,314.81 L362.27,315.39 L363.24,315.95 L364.21,316.50 L365.17,317.03 L366.14,317.55 L367.11,318.05 L368.08,318.54 L369.04,319.02 L370.01,319.48 L370.98,319.93 L371.94,320.37 L372.91,320.79 L373.88,321.21 L374.84,321.61 L375.81,321.99 L376.78,322.37 L377.74,322.73 L378.71,323.07 L379.68,323.40 L380.64,323.72 L381.61,324.03 L382.58,324.32 L383.54,324.60 L384.51,324.86 L385.48,325.11 L386.44,325.34 L387.41,325.56 L388.38,325.76 L389.34,325.95 L390.31,326.13 L391.28,326.29 L392.24,326.44 L393.21,326.58 L394.18,326.70 L395.14,326.81 L396.11,326.91 L397.08,327.00 L398.04,327.07 L399.01,327.14 L399.98,327.19 L400.94,327.24 L401.91,327.28 L402.88,327.32 L403.85,327.35 L404.81,327.37 L405.78,327.39 L406.75,327.41 L407.71,327.43 L408.68,327.44 L409.65,327.45"/>
<path stroke="#000080" d="M95.45,326.82 L96.42,326.76 L97.38,326.70 L98.35,326.63 L99.32,326.56 L100.28,326.49 L101.25,326.41 L102.22,326.32 L103.18,326.23 L104.15,326.13 L105.12,326.02 L106.08,325.91 L107.05,325.79 L108.02,325.65 L108.98,325.51 L109.95,325.36 L110.92,325.19 L111.88,325.01 L112.85,324.82 L113.82,324.61 L114.78,324.39 L115.75,324.15 L116.72,323.89 L117.68,323.61 L118.65,323.31 L119.62,323.00 L120.58,322.66 L121.55,322.30 L122.52,321.91 L123.49,321.50 L124.45,321.06 L125.42,320.60 L126.39,320.10 L127.35,319.58 L128.32,319.02 L129.29,318.43 L130.25,317.81 L131.22,317.16 L132.19,316.47 L133.15,315.74 L134.12,314.98 L135.09,314.18 L136.05,313.33 L137.02,312.45 L137.99,311.53 L138.95,310.57 L139.92,309.56 L140.89,308.51 L141.85,307.42 L142.82,306.29 L143.79,305.11 L144.75,303.88 L145.72,302.62 L146.69,301.31 L147.65,299.95 L148.62,298.55 L149.59,297.11 L150.55,295.62 L151.52,294.09 L152.49,292.52 L153.45,290.90 L154.42,289.24 L155.39,287.54 L156.35,285.81 L157.32,284.03 L158.29,282.21 L159.26,280.36 L160.22,278.47 L161.19,276.54 L162.16,274.58 L163.12,272.59 L164.09,270.56 L165.06,268.50 L166.02,266.42 L166.99,264.30 L167.96,262.16 L168.92,260.00 L169.89,257.80 L170.86,255.59 L171.82,253.35 L172.79,251.09 L173.76,248.82 L174.72,246.52 L175.69,244.21 L176.66,241.88 L177.62,239.54 L178.59,237.19 L179.56,234.82 L180.52,232.44 L181.49,230.05 L182.46,227.66 L183.42,225.26 L184.39,222.85 L185.36,220.44 L186.32,218.02 L187.29,215.60 L188.26,213.18 L189.22,210.76 L190.19,208.34 L191.16,205.92 L192.12,203.51 L193.09,201.09 L194.06,198.69 L195.03,196.28 L195.99,193.89 L196.96,191.50 L197.93,189.13 L198.89,186.76 L199.86,184.41 L200.83,182.07 L201.79,179.74 L202.76,177.43 L203.73,175.13 L204.69,172.85 L205.66,170.60 L206.63,168.36 L207.59,166.15 L208.56,163.96 L209.53,161.79 L210.49,159.65 L211.46,157.54 L212.43,155.47 L213.39,153.42 L214.36,151.41 L215.33,149.43 L216.29,147.49 L217.26,145.59 L218.23,143.73 L219.19,141.92 L220.16,140.15 L221.13,138.43 L222.09,136.76 L223.06,135.14 L224.03,133.58 L224.99,132.07 L225.96,130.62 L226.93,129.23 L227.90,127.91 L228.86,126.64 L229.83,125.45 L230.80,124.32 L231.76,123.27 L232.73,122.28 L233.70,121.37 L234.66,120.54 L235.63,119.78 L236.60,119.11 L237.56,118.51 L238.53,117.99 L239.50,117.56 L240.46,117.21 L241.43,116.95 L242.40,116.77 L243.36,116.67 L244.33,116.66 L245.30,116.72 L246.26,116.83 L247.23,117.00 L248.20,117.23 L249.16,117.51 L250.13,117.86 L251.10,118.27 L252.06,118.74 L253.03,119.26 L254.00,119.85 L254.96,120.50 L255.93,121.22 L256.90,121.99 L257.86,122.83 L258.83,123.72 L259.80,124.69 L260.76,125.71 L261.73,126.80 L262.70,127.95 L263.67,129.16 L264.63,130.44 L265.60,131.77 L266.57,133.17 L267.53,134.63 L268.50,136.15 L269.47,137.73 L270.43,139.36 L271.40,141.06 L272.37,142.81 L273.33,144.61 L274.30,146.47 L275.27,148.38 L276.23,150.34 L277.20,152.35 L278.17,154.40 L279.13,156.50 L280.10,158.64 L281.07,160.82 L282.03,163.03 L283.00,165.28 L283.97,167.57 L284.93,169.88 L285.90,172.23 L286.87,174.59 L287.83,176.98 L288.80,179.39 L289.77,181.82 L290.73,184.26 L291.70,186.71 L292.67,189.17 L293.63,191.64 L294.60,194.11 L295.57,196.58 L296.53,199.05 L297.50,201.51 L298.47,203.97 L299.44,206.42 L300.40,208.85 L301.37,211.28 L302.34,213.69 L303.30,216.08 L304.27,218.45 L305.24,220.80 L306.20,223.12 L307.17,225.42 L308.14,227.69 L309.10,229.94 L310.07,232.15 L311.04,234.34 L312.00,236.49 L312.97,238.61 L313.94,240.70 L314.90,242.75 L315.87,244.77 L316.84,246.75 L317.80,248.70 L318.77,250.61 L319.74,252.48 L320.70,254.31 L321.67,256.11 L322.64,257.87 L323.60,259.59 L324.57,261.28 L325.54,262.92 L326.50,264.54 L327.47,266.11 L328.44,267.65 L329.40,269.16 L330.37,270.63 L331.34,272.06 L332.31,273.46 L333.27,274.83 L334.24,276.17 L335.21,277.48 L336.17,278.75 L337.14,280.00 L338.11,281.21 L339.07,282.40 L340.04,283.56 L341.01,284.69 L341.97,285.80 L342.94,286.89 L343.91,287.95 L344.87,288.99 L345.84,290.00 L346.81,291.00 L347.77,291.97 L348.74,292.93 L349.71,293.87 L350.67,294.79 L351.64,295.70 L352.61,296.59 L353.57,297.47 L354.54,298.33 L355.51,299.19 L356.47,300.03 L357.44,300.85 L358.41,301.67 L359.37,302.48 L360.34,303.28 L361.31,304.07 L362.27,304.86 L363.24,305.63 L364.21,306.40 L365.17,307.16 L366.14,307.92 L367.11,308.66 L368.08,309.41 L369.04,310.14 L370.01,310.87 L370.98,311.59 L371.94,312.30 L372.91,313.01 L373.88,313.71 L374.84,314.40 L375.81,315.08 L376.78,315.75 L377.74,316.40 L378.71,317.05 L379.68,317.68 L380.64,318.30 L381.61,318.91 L382.58,319.49 L383.54,320.07 L384.51,320.62 L385.48,321.15 L386.44,321.67 L387.41,322.16 L388.38,322.63 L389.34,323.07 L390.31,323.50 L391.28,323.90 L392.24,324.27 L393.21,324.62 L394.18,324.95 L395.14,325.25 L396.11,325.52 L397.08,325.78 L398.04,326.01 L399.01,326.21 L399.98,326.40 L400.94,326.57 L401.91,326.71 L402.88,326.84 L403.85,326.95 L404.81,327.05 L405.78,327.12 L406.75,327.19 L407.71,327.25 L408.68,327.29 L409.65,327.33"/>
<path stroke="#800000" d="M95.45,326.98 L96.42,326.93 L97.38,326.87 L98.35,326.82 L99.32,326.76 L100.28,326.69 L101.25,326.62 L102.22,326.54 L103.18,326.46 L104.15,326.37 L105.12,326.27 L106.08,326.17 L107.05,326.06 L108.02,325.94 L108.98,325.81 L109.95,325.67 L110.92,325.52 L111.88,325.36 L112.85,325.19 L113.82,325.00 L114.78,324.80 L115.75,324.59 L116.72,324.36 L117.68,324.11 L118.65,323.85 L119.62,323.57 L120.58,323.27 L121.55,322.95 L122.52,322.62 L123.49,322.26 L124.45,321.87 L125.42,321.47 L126.39,321.03 L127.35,320.58 L128.32,320.09 L129.29,319.58 L130.25,319.04 L131.22,318.47 L132.19,317.87 L133.15,317.23 L134.12,316.56 L135.09,315.86 L136.05,315.12 L137.02,314.35 L137.99,313.54 L138.95,312.69 L139.92,311.81 L140.89,310.88 L141.85,309.91 L142.82,308.90 L143.79,307.85 L144.75,306.76 L145.72,305.62 L146.69,304.44 L147.65,303.21 L148.62,301.94 L149.59,300.63 L150.55,299.27 L151.52,297.87 L152.49,296.41 L153.45,294.92 L154.42,293.38 L155.39,291.79 L156.35,290.16 L157.32,288.48 L158.29,286.76 L159.26,284.99 L160.22,283.19 L161.19,281.33 L162.16,279.44 L163.12,277.50 L164.09,275.53 L165.06,273.51 L166.02,271.46 L166.99,269.37 L167.96,267.24 L168.92,265.08 L169.89,262.88 L170.86,260.65 L171.82,258.39 L172.79,256.10 L173.76,253.78 L174.72,251.43 L175.69,249.06 L176.66,246.67 L177.62,244.25 L178.59,241.81 L179.56,239.36 L180.52,236.88 L181.49,234.40 L182.46,231.90 L183.42,229.39 L184.39,226.87 L185.36,224.34 L186.32,221.80 L187.29,219.26 L188.26,216.72 L189.22,214.18 L190.19,211.65 L191.16,209.11 L192.12,206.58 L193.09,204.06 L194.06,201.55 L195.03,199.04 L195.99,196.55 L196.96,194.08 L197.93,191.62 L198.89,189.18 L199.86,186.76 L200.83,184.36 L201.79,181.98 L202.76,179.63 L203.73,177.31 L204.69,175.01 L205.66,172.74 L206.63,170.51 L207.59,168.31 L208.56,166.14 L209.53,164.01 L210.49,161.91 L211.46,159.86 L212.43,157.84 L213.39,155.87 L214.36,153.94 L215.33,152.06 L216.29,150.22 L217.26,148.43 L218.23,146.69 L219.19,144.99 L220.16,143.35 L221.13,141.76 L222.09,140.23 L223.06,138.75 L224.03,137.32 L224.99,135.95 L225.96,134.64 L226.93,133.39 L227.90,132.20 L228.86,131.07 L229.83,130.00 L230.80,128.99 L231.76,128.05 L232.73,127.17 L233.70,126.35 L234.66,125.60 L235.63,124.92 L236.60,124.30 L237.56,123.75 L238.53,123.27 L239.50,122.86 L240.46,122.51 L241.43,122.24 L242.40,122.03 L243.36,121.89 L244.33,121.83 L245.30,121.83 L246.26,121.89 L247.23,122.01 L248.20,122.19 L249.16,122.43 L250.13,122.74 L251.10,123.10 L252.06,123.52 L253.03,124.01 L254.00,124.55 L254.96,125.16 L255.93,125.82 L256.90,126.55 L257.86,127.34 L258.83,128.18 L259.80,129.09 L260.76,130.05 L261.73,131.08 L262.70,132.16 L263.67,133.30 L264.63,134.50 L265.60,135.76 L266.57,137.07 L267.53,138.43 L268.50,139.85 L269.47,141.33 L270.43,142.85 L271.40,144.43 L272.37,146.05 L273.33,147.73 L274.30,149.45 L275.27,151.21 L276.23,153.02 L277.20,154.87 L278.17,156.76 L279.13,158.69 L280.10,160.65 L281.07,162.65 L282.03,164.68 L283.00,166.74 L283.97,168.83 L284.93,170.95 L285.90,173.09 L286.87,175.25 L287.83,177.43 L288.80,179.63 L289.77,181.84 L290.73,184.07 L291.70,186.30 L292.67,188.55 L293.63,190.80 L294.60,193.06 L295.57,195.32 L296.53,197.58 L297.50,199.84 L298.47,202.10 L299.44,204.35 L300.40,206.59 L301.37,208.83 L302.34,211.05 L303.30,213.27 L304.27,215.46 L305.24,217.65 L306.20,219.81 L307.17,221.96 L308.14,224.09 L309.10,226.20 L310.07,228.29 L311.04,230.35 L312.00,232.39 L312.97,234.41 L313.94,236.40 L314.90,238.36 L315.87,240.30 L316.84,242.21 L317.80,244.09 L318.77,245.95 L319.74,247.78 L320.70,249.58 L321.67,251.34 L322.64,253.09 L323.60,254.80 L324.57,256.48 L325.54,258.13 L326.50,259.76 L327.47,261.36 L328.44,262.92 L329.40,264.46 L330.37,265.98 L331.34,267.46 L332.31,268.92 L333.27,270.35 L334.24,271.76 L335.21,273.14 L336.17,274.49 L337.14,275.82 L338.11,277.13 L339.07,278.41 L340.04,279.67 L341.01,280.91 L341.97,282.13 L342.94,283.33 L343.91,284.50 L344.87,285.66 L345.84,286.80 L346.81,287.92 L347.77,289.02 L348.74,290.11 L349.71,291.18 L350.67,292.23 L351.64,293.27 L352.61,294.29 L353.57,295.31 L354.54,296.30 L355.51,297.29 L356.47,298.26 L357.44,299.22 L358.41,300.17 L359.37,301.10 L360.34,302.03 L361.31,302.94 L362.27,303.84 L363.24,304.73 L364.21,305.61 L365.17,306.48 L366.14,307.34 L367.11,308.19 L368.08,309.02 L369.04,309.85 L370.01,310.66 L370.98,311.46 L371.94,312.24 L372.91,313.01 L373.88,313.77 L374.84,314.51 L375.81,315.24 L376.78,315.95 L377.74,316.64 L378.71,317.32 L379.68,317.97 L380.64,318.61 L381.61,319.22 L382.58,319.82 L383.54,320.39 L384.51,320.94 L385.48,321.46 L386.44,321.97 L387.41,322.44 L388.38,322.90 L389.34,323.33 L390.31,323.73 L391.28,324.11 L392.24,324.46 L393.21,324.79 L394.18,325.09 L395.14,325.37 L396.11,325.63 L397.08,325.87 L398.04,326.08 L399.01,326.27 L399.98,326.44 L400.94,326.60 L401.91,326.73 L402.88,326.85 L403.85,326.96 L404.81,327.05 L405.78,327.12 L406.75,327.18 L407.71,327.24 L408.68,327.28 L409.65,327.32"/>
<path stroke="#ff0080" d="M95.45,326.95 L96.42,326.90 L97.38,326.84 L98.35,326.77 L99.32,326.70 L100.28,326.63 L101.25,326.55 L102.22,326.46 L103.18,326.36 L104.15,326.26 L105.12,326.15 L106.08,326.03 L107.05,325.90 L108.02,325.77 L108.98,325.62 L109.95,325.46 L110.92,325.29 L111.88,325.11 L112.85,324.91 L113.82,324.70 L114.78,324.48 L115.75,324.24 L116.72,323.98 L117.68,323.71 L118.65,323.42 L119.62,323.11 L120.58,322.78 L121.55,322.43 L122.52,322.06 L123.49,321.67 L124.45,321.25 L125.42,320.81 L126.39,320.35 L127.35,319.85 L128.32,319.34 L129.29,318.79 L130.25,318.21 L131.22,317.60 L132.19,316.97 L133.15,316.30 L134.12,315.59 L135.09,314.85 L136.05,314.08 L137.02,313.27 L137.99,312.43 L138.95,311.54 L139.92,310.62 L140.89,309.66 L141.85,308.65 L142.82,307.61 L143.79,306.52 L144.75,305.39 L145.72,304.22 L146.69,303.01 L147.65,301.75 L148.62,300.44 L149.59,299.09 L150.55,297.70 L151.52,296.26 L152.49,294.77 L153.45,293.24 L154.42,291.67 L155.39,290.04 L156.35,288.38 L157.32,286.66 L158.29,284.91 L159.26,283.11 L160.22,281.26 L161.19,279.37 L162.16,277.44 L163.12,275.47 L164.09,273.45 L165.06,271.40 L166.02,269.31 L166.99,267.18 L167.96,265.01 L168.92,262.81 L169.89,260.57 L170.86,258.30 L171.82,256.01 L172.79,253.68 L173.76,251.32 L174.72,248.94 L175.69,246.53 L176.66,244.10 L177.62,241.65 L178.59,239.19 L179.56,236.70 L180.52,234.20 L181.49,231.69 L182.46,229.17 L183.42,226.64 L184.39,224.11 L185.36,221.57 L186.32,219.03 L187.29,216.48 L188.26,213.95 L189.22,211.41 L190.19,208.89 L191.16,206.37 L192.12,203.86 L193.09,201.37 L194.06,198.89 L195.03,196.43 L195.99,193.98 L196.96,191.56 L197.93,189.17 L198.89,186.80 L199.86,184.45 L200.83,182.13 L201.79,179.85 L202.76,177.60 L203.73,175.38 L204.69,173.19 L205.66,171.05 L206.63,168.94 L207.59,166.87 L208.56,164.84 L209.53,162.86 L210.49,160.92 L211.46,159.02 L212.43,157.17 L213.39,155.37 L214.36,153.61 L215.33,151.91 L216.29,150.25 L217.26,148.64 L218.23,147.09 L219.19,145.59 L220.16,144.14 L221.13,142.74 L222.09,141.39 L223.06,140.10 L224.03,138.87 L224.99,137.69 L225.96,136.56 L226.93,135.49 L227.90,134.48 L228.86,133.52 L229.83,132.62 L230.80,131.77 L231.76,130.98 L232.73,130.25 L233.70,129.57 L234.66,128.95 L235.63,128.38 L236.60,127.88 L237.56,127.42 L238.53,127.03 L239.50,126.69 L240.46,126.41 L241.43,126.18 L242.40,126.02 L243.36,125.90 L244.33,125.85 L245.30,125.85 L246.26,125.91 L247.23,126.03 L248.20,126.20 L249.16,126.44 L250.13,126.73 L251.10,127.08 L252.06,127.49 L253.03,127.96 L254.00,128.48 L254.96,129.06 L255.93,129.70 L256.90,130.40 L257.86,131.15 L258.83,131.96 L259.80,132.83 L260.76,133.74 L261.73,134.72 L262.70,135.75 L263.67,136.83 L264.63,137.96 L265.60,139.15 L266.57,140.38 L267.53,141.67 L268.50,143.01 L269.47,144.39 L270.43,145.82 L271.40,147.29 L272.37,148.81 L273.33,150.37 L274.30,151.98 L275.27,153.62 L276.23,155.30 L277.20,157.02 L278.17,158.78 L279.13,160.56 L280.10,162.39 L281.07,164.24 L282.03,166.12 L283.00,168.03 L283.97,169.96 L284.93,171.92 L285.90,173.90 L286.87,175.89 L287.83,177.91 L288.80,179.95 L289.77,182.00 L290.73,184.06 L291.70,186.13 L292.67,188.22 L293.63,190.31 L294.60,192.41 L295.57,194.51 L296.53,196.61 L297.50,198.72 L298.47,200.83 L299.44,202.93 L300.40,205.04 L301.37,207.13 L302.34,209.22 L303.30,211.31 L304.27,213.38 L305.24,215.45 L306.20,217.50 L307.17,219.55 L308.14,221.58 L309.10,223.59 L310.07,225.59 L311.04,227.58 L312.00,229.55 L312.97,231.50 L313.94,233.43 L314.90,235.34 L315.87,237.24 L316.84,239.11 L317.80,240.96 L318.77,242.80 L319.74,244.61 L320.70,246.40 L321.67,248.17 L322.64,249.91 L323.60,251.64 L324.57,253.34 L325.54,255.02 L326.50,256.68 L327.47,258.31 L328.44,259.92 L329.40,261.51 L330.37,263.08 L331.34,264.63 L332.31,266.16 L333.27,267.66 L334.24,269.14 L335.21,270.60 L336.17,272.04 L337.14,273.46 L338.11,274.87 L339.07,276.25 L340.04,277.61 L341.01,278.95 L341.97,280.27 L342.94,281.58 L343.91,282.86 L344.87,284.13 L345.84,285.38 L346.81,286.62 L347.77,287.83 L348.74,289.03 L349.71,290.22 L350.67,291.38 L351.64,292.54 L352.61,293.67 L353.57,294.79 L354.54,295.90 L355.51,296.99 L356.47,298.06 L357.44,299.12 L358.41,300.17 L359.37,301.20 L360.34,302.21 L361.31,303.21 L362.27,304.19 L363.24,305.16 L364.21,306.11 L365.17,307.04 L366.14,307.96 L367.11,308.86 L368.08,309.74 L369.04,310.61 L370.01,311.45 L370.98,312.28 L371.94,313.09 L372.91,313.88 L373.88,314.65 L374.84,315.40 L375.81,316.12 L376.78,316.83 L377.74,317.51 L378.71,318.17 L379.68,318.80 L380.64,319.41 L381.61,320.00 L382.58,320.56 L383.54,321.10 L384.51,321.61 L385.48,322.10 L386.44,322.56 L387.41,323.00 L388.38,323.41 L389.34,323.80 L390.31,324.16 L391.28,324.50 L392.24,324.81 L393.21,325.10 L394.18,325.37 L395.14,325.62 L396.11,325.84 L397.08,326.05 L398.04,326.23 L399.01,326.40 L399.98,326.55 L400.94,326.68 L401.91,326.80 L402.88,326.91 L403.85,327.00 L404.81,327.07 L405.78,327.14 L406.75,327.20 L407.71,327.25 L408.68,327.29 L409.65,327.32"/>
<path stroke="#008000" d="M95.45,327.02 L96.42,326.98 L97.38,326.94 L98.35,326.90 L99.32,326.85 L100.28,326.80 L101.25,326.74 L102.22,326.68 L103.18,326.62 L104.15,326.55 L105.12,326.48 L106.08,326.40 L107.05,326.32 L108.02,326.23 L108.98,326.13 L109.95,326.02 L110.92,325.91 L111.88,325.78 L112.85,325.65 L113.82,325.50 L114.78,325.34 L115.75,325.17 L116.72,324.98 L117.68,324.78 L118.65,324.57 L119.62,324.34 L120.58,324.09 L121.55,323.82 L122.52,323.54 L123.49,323.23 L124.45,322.90 L125.42,322.55 L126.39,322.17 L127.35,321.77 L128.32,321.34 L129.29,320.88 L130.25,320.39 L131.22,319.87 L132.19,319.32 L133.15,318.74 L134.12,318.12 L135.09,317.47 L136.05,316.78 L137.02,316.05 L137.99,315.28 L138.95,314.46 L139.92,313.61 L140.89,312.71 L141.85,311.77 L142.82,310.78 L143.79,309.75 L144.75,308.67 L145.72,307.54 L146.69,306.36 L147.65,305.14 L148.62,303.86 L149.59,302.53 L150.55,301.15 L151.52,299.72 L152.49,298.24 L153.45,296.70 L154.42,295.12 L155.39,293.48 L156.35,291.80 L157.32,290.06 L158.29,288.27 L159.26,286.43 L160.22,284.54 L161.19,282.61 L162.16,280.62 L163.12,278.59 L164.09,276.51 L165.06,274.39 L166.02,272.23 L166.99,270.02 L167.96,267.77 L168.92,265.48 L169.89,263.16 L170.86,260.79 L171.82,258.40 L172.79,255.96 L173.76,253.50 L174.72,251.01 L175.69,248.48 L176.66,245.93 L177.62,243.36 L178.59,240.76 L179.56,238.14 L180.52,235.50 L181.49,232.84 L182.46,230.17 L183.42,227.48 L184.39,224.78 L185.36,222.06 L186.32,219.34 L187.29,216.61 L188.26,213.87 L189.22,211.13 L190.19,208.39 L191.16,205.64 L192.12,202.90 L193.09,200.16 L194.06,197.42 L195.03,194.69 L195.99,191.96 L196.96,189.24 L197.93,186.53 L198.89,183.84 L199.86,181.16 L200.83,178.49 L201.79,175.84 L202.76,173.20 L203.73,170.59 L204.69,167.99 L205.66,165.42 L206.63,162.87 L207.59,160.35 L208.56,157.85 L209.53,155.38 L210.49,152.94 L211.46,150.53 L212.43,148.15 L213.39,145.81 L214.36,143.50 L215.33,141.24 L216.29,139.01 L217.26,136.82 L218.23,134.67 L219.19,132.57 L220.16,130.51 L221.13,128.50 L222.09,126.54 L223.06,124.63 L224.03,122.77 L224.99,120.97 L225.96,119.22 L226.93,117.53 L227.90,115.90 L228.86,114.33 L229.83,112.82 L230.80,111.38 L231.76,110.01 L232.73,108.70 L233.70,107.46 L234.66,106.29 L235.63,105.20 L236.60,104.18 L237.56,103.24 L238.53,102.37 L239.50,101.58 L240.46,100.87 L241.43,100.24 L242.40,99.70 L243.36,99.23 L244.33,98.85 L245.30,98.55 L246.26,98.34 L247.23,98.21 L248.20,98.17 L249.16,98.21 L250.13,98.36 L251.10,98.61 L252.06,98.95 L253.03,99.39 L254.00,99.94 L254.96,100.58 L255.93,101.32 L256.90,102.16 L257.86,103.09 L258.83,104.13 L259.80,105.26 L260.76,106.50 L261.73,107.82 L262.70,109.25 L263.67,110.77 L264.63,112.39 L265.60,114.09 L266.57,115.90 L267.53,117.79 L268.50,119.77 L269.47,121.83 L270.43,123.99 L271.40,126.22 L272.37,128.54 L273.33,130.93 L274.30,133.40 L275.27,135.94 L276.23,138.55 L277.20,141.22 L278.17,143.96 L279.13,146.75 L280.10,149.60 L281.07,152.50 L282.03,155.45 L283.00,158.44 L283.97,161.47 L284.93,164.53 L285.90,167.62 L286.87,170.74 L287.83,173.88 L288.80,177.04 L289.77,180.22 L290.73,183.40 L291.70,186.58 L292.67,189.77 L293.63,192.95 L294.60,196.13 L295.57,199.30 L296.53,202.45 L297.50,205.58 L298.47,208.69 L299.44,211.77 L300.40,214.83 L301.37,217.85 L302.34,220.84 L303.30,223.79 L304.27,226.71 L305.24,229.58 L306.20,232.41 L307.17,235.19 L308.14,237.92 L309.10,240.60 L310.07,243.23 L311.04,245.81 L312.00,248.34 L312.97,250.81 L313.94,253.23 L314.90,255.59 L315.87,257.90 L316.84,260.15 L317.80,262.34 L318.77,264.48 L319.74,266.56 L320.70,268.58 L321.67,270.55 L322.64,272.47 L323.60,274.33 L324.57,276.13 L325.54,277.88 L326.50,279.58 L327.47,281.23 L328.44,282.83 L329.40,284.38 L330.37,285.88 L331.34,287.33 L332.31,288.73 L333.27,290.09 L334.24,291.41 L335.21,292.69 L336.17,293.92 L337.14,295.11 L338.11,296.27 L339.07,297.38 L340.04,298.46 L341.01,299.51 L341.97,300.52 L342.94,301.50 L343.91,302.45 L344.87,303.37 L345.84,304.25 L346.81,305.11 L347.77,305.95 L348.74,306.76 L349.71,307.54 L350.67,308.30 L351.64,309.03 L352.61,309.75 L353.57,310.44 L354.54,311.12 L355.51,311.78 L356.47,312.41 L357.44,313.03 L358.41,313.64 L359.37,314.22 L360.34,314.80 L361.31,315.35 L362.27,315.90 L363.24,316.43 L364.21,316.94 L365.17,317.45 L366.14,317.94 L367.11,318.41 L368.08,318.88 L369.04,319.33 L370.01,319.77 L370.98,320.20 L371.94,320.62 L372.91,321.03 L373.88,321.42 L374.84,321.80 L375.81,322.17 L376.78,322.53 L377.74,322.88 L378.71,323.21 L379.68,323.53 L380.64,323.84 L381.61,324.13 L382.58,324.41 L383.54,324.68 L384.51,324.93 L385.48,325.17 L386.44,325.40 L387.41,325.61 L388.38,325.81 L389.34,325.99 L390.31,326.17 L391.28,326.32 L392.24,326.47 L393.21,326.60 L394.18,326.72 L395.14,326.83 L396.11,326.92 L397.08,327.01 L398.04,327.08 L399.01,327.14 L399.98,327.20 L400.94,327.24 L401.91,327.28 L402.88,327.32 L403.85,327.35 L404.81,327.37 L405.78,327.39 L406.75,327.41 L407.71,327.43 L408.68,327.44 L409.65,327.45"/>
<path stroke="#0000a0" d="M95.45,326.85 L96.42,326.79 L97.38,326.74 L98.35,326.67 L99.32,326.60 L100.28,326.53 L101.25,326.45 L102.22,326.36 L103.18,326.27 L104.15,326.18 L105.12,326.07 L106.08,325.96 L107.05,325.84 L108.02,325.71 L108.98,325.57 L109.95,325.42 L110.92,325.26 L111.88,325.08 L112.85,324.89 L113.82,324.69 L114.78,324.47 L115.75,324.24 L116.72,323.98 L117.68,323.71 L118.65,323.42 L119.62,323.11 L120.58,322.78 L121.55,322.43 L122.52,322.05 L123.49,321.65 L124.45,321.22 L125.42,320.77 L126.39,320.29 L127.35,319.78 L128.32,319.24 L129.29,318.66 L130.25,318.06 L131.22,317.42 L132.19,316.75 L133.15,316.04 L134.12,315.29 L135.09,314.51 L136.05,313.69 L137.02,312.83 L137.99,311.93 L138.95,310.99 L139.92,310.01 L140.89,308.98 L141.85,307.92 L142.82,306.81 L143.79,305.65 L144.75,304.46 L145.72,303.22 L146.69,301.93 L147.65,300.60 L148.62,299.23 L149.59,297.81 L150.55,296.35 L151.52,294.85 L152.49,293.30 L153.45,291.71 L154.42,290.08 L155.39,288.41 L156.35,286.70 L157.32,284.94 L158.29,283.15 L159.26,281.32 L160.22,279.45 L161.19,277.54 L162.16,275.60 L163.12,273.63 L164.09,271.62 L165.06,269.58 L166.02,267.51 L166.99,265.40 L167.96,263.27 L168.92,261.12 L169.89,258.93 L170.86,256.73 L171.82,254.50 L172.79,252.24 L173.76,249.97 L174.72,247.68 L175.69,245.37 L176.66,243.04 L177.62,240.70 L178.59,238.34 L179.56,235.97 L180.52,233.59 L181.49,231.20 L182.46,228.80 L183.42,226.39 L184.39,223.98 L185.36,221.56 L186.32,219.13 L187.29,216.70 L188.26,214.28 L189.22,211.85 L190.19,209.42 L191.16,206.99 L192.12,204.57 L193.09,202.15 L194.06,199.73 L195.03,197.33 L195.99,194.93 L196.96,192.53 L197.93,190.15 L198.89,187.78 L199.86,185.43 L200.83,183.08 L201.79,180.75 L202.76,178.44 L203.73,176.15 L204.69,173.87 L205.66,171.62 L206.63,169.39 L207.59,167.18 L208.56,164.99 L209.53,162.83 L210.49,160.70 L211.46,158.60 L212.43,156.54 L213.39,154.50 L214.36,152.50 L215.33,150.53 L216.29,148.61 L217.26,146.72 L218.23,144.87 L219.19,143.07 L220.16,141.32 L221.13,139.61 L222.09,137.95 L223.06,136.34 L224.03,134.79 L224.99,133.29 L225.96,131.85 L226.93,130.47 L227.90,129.15 L228.86,127.89 L229.83,126.70 L230.80,125.57 L231.76,124.51 L232.73,123.53 L233.70,122.61 L234.66,121.77 L235.63,121.00 L236.60,120.31 L237.56,119.70 L238.53,119.17 L239.50,118.71 L240.46,118.34 L241.43,118.05 L242.40,117.84 L243.36,117.71 L244.33,117.67 L245.30,117.69 L246.26,117.77 L247.23,117.91 L248.20,118.11 L249.16,118.36 L250.13,118.68 L251.10,119.04 L252.06,119.47 L253.03,119.96 L254.00,120.50 L254.96,121.11 L255.93,121.78 L256.90,122.50 L257.86,123.29 L258.83,124.14 L259.80,125.05 L260.76,126.02 L261.73,127.05 L262.70,128.15 L263.67,129.30 L264.63,130.52 L265.60,131.80 L266.57,133.14 L267.53,134.55 L268.50,136.01 L269.47,137.53 L270.43,139.11 L271.40,140.75 L272.37,142.44 L273.33,144.19 L274.30,145.99 L275.27,147.85 L276.23,149.76 L277.20,151.71 L278.17,153.72 L279.13,155.77 L280.10,157.86 L281.07,159.99 L282.03,162.17 L283.00,164.38 L283.97,166.62 L284.93,168.90 L285.90,171.20 L286.87,173.54 L287.83,175.89 L288.80,178.27 L289.77,180.67 L290.73,183.09 L291.70,185.51 L292.67,187.95 L293.63,190.40 L294.60,192.85 L295.57,195.31 L296.53,197.77 L297.50,200.22 L298.47,202.67 L299.44,205.11 L300.40,207.54 L301.37,209.96 L302.34,212.37 L303.30,214.76 L304.27,217.13 L305.24,219.49 L306.20,221.82 L307.17,224.12 L308.14,226.41 L309.10,228.66 L310.07,230.89 L311.04,233.08 L312.00,235.25 L312.97,237.38 L313.94,239.49 L314.90,241.55 L315.87,243.59 L316.84,245.58 L317.80,247.55 L318.77,249.47 L319.74,251.36 L320.70,253.21 L321.67,255.03 L322.64,256.81 L323.60,258.55 L324.57,260.26 L325.54,261.92 L326.50,263.55 L327.47,265.15 L328.44,266.71 L329.40,268.23 L330.37,269.72 L331.34,271.18 L332.31,272.60 L333.27,273.98 L334.24,275.34 L335.21,276.66 L336.17,277.95 L337.14,279.22 L338.11,280.45 L339.07,281.65 L340.04,282.83 L341.01,283.98 L341.97,285.10 L342.94,286.20 L343.91,287.28 L344.87,288.33 L345.84,289.36 L346.81,290.37 L347.77,291.36 L348.74,292.33 L349.71,293.28 L350.67,294.22 L351.64,295.14 L352.61,296.04 L353.57,296.93 L354.54,297.81 L355.51,298.67 L356.47,299.52 L357.44,300.36 L358.41,301.19 L359.37,302.01 L360.34,302.82 L361.31,303.62 L362.27,304.41 L363.24,305.20 L364.21,305.97 L365.17,306.74 L366.14,307.51 L367.11,308.27 L368.08,309.02 L369.04,309.76 L370.01,310.50 L370.98,311.23 L371.94,311.96 L372.91,312.67 L373.88,313.38 L374.84,314.08 L375.81,314.77 L376.78,315.45 L377.74,316.12 L378.71,316.78 L379.68,317.42 L380.64,318.05 L381.61,318.67 L382.58,319.27 L383.54,319.85 L384.51,320.42 L385.48,320.96 L386.44,321.49 L387.41,321.99 L388.38,322.47 L389.34,322.93 L390.31,323.36 L391.28,323.77 L392.24,324.16 L393.21,324.52 L394.18,324.85 L395.14,325.16 L396.11,325.45 L397.08,325.71 L398.04,325.95 L399.01,326.16 L399.98,326.36 L400.94,326.53 L401.91,326.68 L402.88,326.81 L403.85,326.93 L404.81,327.03 L405.78,327.11 L406.75,327.18 L407.71,327.24 L408.68,327.28 L409.65,327.32"/>
<path stroke="#ff8000" d="M95.45,327.50 L96.42,327.50 L97.38,327.50 L98.35,327.50 L99.32,327.50 L100.28,327.50 L101.25,327.50 L102.22,327.50 L103.18,327.50 L104.15,327.50 L105.12,327.50 L106.08,327.50 L107.05,327.50 L108.02,327.50 L108.98,327.50 L109.95,327.50 L110.92,327.50 L111.88,327.50 L112.85,327.50 L113.82,327.50 L114.78,327.50 L115.75,327.50 L116.72,327.50 L117.68,327.50 L118.65,327.50 L119.62,327.50 L120.58,327.50 L121.55,327.50 L122.52,327.50 L123.49,327.50 L124.45,327.50 L125.42,327.50 L126.39,327.50 L127.35,327.50 L128.32,327.50 L129.29,327.50 L130.25,327.50 L131.22,327.50 L132.19,327.50 L133.15,327.49 L134.12,327.49 L135.09,327.48 L136.05,327.48 L137.02,327.47 L137.99,327.47 L138.95,327.46 L139.92,327.46 L140.89,327.45 L141.85,327.44 L142.82,327.44 L143.79,327.43 L144.75,327.43 L145.72,327.42 L146.69,327.42 L147.65,327.42 L148.62,327.41 L149.59,327.41 L150.55,327.41 L151.52,327.41 L152.49,327.41 L153.45,327.40 L154.42,327.40 L155.39,327.39 L156.35,327.37 L157.32,327.36 L158.29,327.34 L159.26,327.31 L160.22,327.27 L161.19,327.23 L162.16,327.18 L163.12,327.12 L164.09,327.05 L165.06,326.97 L166.02,326.88 L166.99,326.77 L167.96,326.65 L168.92,326.52 L169.89,326.38 L170.86,326.22 L171.82,326.04 L172.79,325.85 L173.76,325.65 L174.72,325.42 L175.69,325.18 L176.66,324.93 L177.62,324.65 L178.59,324.36 L179.56,324.06 L180.52,323.73 L181.49,323.39 L182.46,323.02 L183.42,322.64 L184.39,322.23 L185.36,321.80 L186.32,321.33 L187.29,320.84 L188.26,320.31 L189.22,319.74 L190.19,319.13 L191.16,318.48 L192.12,317.78 L193.09,317.03 L194.06,316.24 L195.03,315.39 L195.99,314.50 L196.96,313.56 L197.93,312.56 L198.89,311.52 L199.86,310.43 L200.83,309.29 L201.79,308.10 L202.76,306.85 L203.73,305.56 L204.69,304.22 L205.66,302.85 L206.63,301.44 L207.59,300.00 L208.56,298.53 L209.53,297.04 L210.49,295.53 L211.46,294.01 L212.43,292.49 L213.39,290.95 L214.36,289.42 L215.33,287.90 L216.29,286.39 L217.26,284.90 L218.23,283.44 L219.19,282.01 L220.16,280.62 L221.13,279.26 L222.09,277.94 L223.06,276.62 L224.03,275.32 L224.99,274.01 L225.96,272.72 L226.93,271.42 L227.90,270.14 L228.86,268.87 L229.83,267.60 L230.80,266.35 L231.76,265.12 L232.73,263.90 L233.70,262.70 L234.66,261.51 L235.63,260.35 L236.60,259.21 L237.56,258.09 L238.53,257.00 L239.50,255.94 L240.46,254.90 L241.43,253.89 L242.40,252.90 L243.36,251.93 L244.33,250.98 L245.30,250.06 L246.26,249.16 L247.23,248.28 L248.20,247.42 L249.16,246.57 L250.13,245.74 L251.10,244.93 L252.06,244.14 L253.03,243.35 L254.00,242.56 L254.96,241.75 L255.93,240.93 L256.90,240.07 L257.86,239.17 L258.83,238.22 L259.80,237.21 L260.76,236.13 L261.73,234.97 L262.70,233.72 L263.67,232.38 L264.63,230.96 L265.60,229.43 L266.57,227.82 L267.53,226.10 L268.50,224.29 L269.47,222.37 L270.43,220.37 L271.40,218.27 L272.37,216.09 L273.33,213.85 L274.30,211.54 L275.27,209.17 L276.23,206.76 L277.20,204.30 L278.17,201.81 L279.13,199.28 L280.10,196.72 L281.07,194.11 L282.03,191.48 L283.00,188.81 L283.97,186.10 L284.93,183.37 L285.90,180.59 L286.87,177.78 L287.83,174.93 L288.80,172.04 L289.77,169.10 L290.73,166.12 L291.70,163.08 L292.67,159.99 L293.63,156.84 L294.60,153.64 L295.57,150.37 L296.53,147.04 L297.50,143.65 L298.47,140.22 L299.44,136.73 L300.40,133.21 L301.37,129.66 L302.34,126.09 L303.30,122.49 L304.27,118.89 L305.24,115.28 L306.20,111.67 L307.17,108.06 L308.14,104.46 L309.10,100.86 L310.07,97.29 L311.04,93.73 L312.00,90.20 L312.97,86.69 L313.94,83.21 L314.90,79.76 L315.87,76.36 L316.84,72.99 L317.80,69.67 L318.77,66.41 L319.74,63.24 L320.70,60.17 L321.67,57.22 L322.64,54.44 L323.60,51.82 L324.57,49.41 L325.54,47.22 L326.50,45.27 L327.47,43.59 L328.44,42.17 L329.40,41.00 L330.37,40.09 L331.34,39.42 L332.31,38.99 L333.27,38.80 L334.24,38.85 L335.21,39.14 L336.17,39.67 L337.14,40.46 L338.11,41.51 L339.07,42.83 L340.04,44.42 L341.01,46.29 L341.97,48.44 L342.94,50.89 L343.91,53.65 L344.87,56.71 L345.84,60.09 L346.81,63.80 L347.77,67.85 L348.74,72.24 L349.71,76.98 L350.67,82.06 L351.64,87.48 L352.61,93.21 L353.57,99.24 L354.54,105.56 L355.51,112.16 L356.47,119.02 L357.44,126.13 L358.41,133.44 L359.37,140.87 L360.34,148.38 L361.31,155.91 L362.27,163.42 L363.24,170.90 L364.21,178.31 L365.17,185.65 L366.14,192.88 L367.11,199.98 L368.08,206.94 L369.04,213.72 L370.01,220.32 L370.98,226.70 L371.94,232.84 L372.91,238.72 L373.88,244.32 L374.84,249.63 L375.81,254.67 L376.78,259.46 L377.74,264.04 L378.71,268.42 L379.68,272.63 L380.64,276.68 L381.61,280.58 L382.58,284.33 L383.54,287.94 L384.51,291.43 L385.48,294.77 L386.44,297.97 L387.41,301.02 L388.38,303.89 L389.34,306.57 L390.31,309.07 L391.28,311.38 L392.24,313.49 L393.21,315.41 L394.18,317.15 L395.14,318.70 L396.11,320.07 L397.08,321.27 L398.04,322.33 L399.01,323.24 L399.98,324.01 L400.94,324.68 L401.91,325.23 L402.88,325.69 L403.85,326.07 L404.81,326.38 L405.78,326.63 L406.75,326.84 L407.71,327.01 L408.68,327.16 L409.65,327.28 L410.61,327.39 L411.58,327.47 L412.55,327.50 L413.51,327.50 L414.48,327.50 L415.45,327.50 L416.41,327.50 L417.38,327.50 L418.35,327.50 L419.31,327.50 L420.28,327.50 L421.25,327.50 L422.21,327.50 L423.18,327.50 L424.15,327.50 L425.11,327.50 L426.08,327.50 L427.05,327.50 L428.01,327.50 L428.98,327.50 L429.95,327.50 L430.91,327.50 L431.88,327.50 L432.85,327.50 L433.81,327.50 L434.78,327.50 L435.75,327.50 L436.71,327.50 L437.68,327.50 L438.65,327.50 L439.62,327.50 L440.58,327.50 L441.55,327.50 L442.52,327.50 L443.48,327.50 L444.45,327.50 L445.42,327.50 L446.38,327.50 L447.35,327.50 L448.32,327.50 L449.28,327.49 L450.25,327.48 L451.22,327.47 L452.18,327.45 L453.15,327.44 L454.12,327.43 L455.08,327.42 L456.05,327.42 L457.02,327.41 L457.98,327.41 L458.95,327.40 L459.92,327.40 L460.88,327.40 L461.85,327.40 L462.82,327.40 L463.78,327.40 L464.75,327.40 L465.72,327.40 L466.68,327.40 L467.65,327.41 L468.62,327.41 L469.58,327.41 L470.55,327.42 L471.52,327.42 L472.49,327.43 L473.45,327.44 L474.42,327.44 L475.39,327.45 L476.35,327.46 L477.32,327.47 L478.29,327.47 L479.25,327.48 L480.22,327.49 L481.19,327.50"/>
</g>
<g stroke-width="1.4" fill="none">
<path stroke="#000000" d="M383.5,28.60 H418.8"/>
<path stroke="#ff0000" d="M383.5,47.79 H418.8"/>
<path stroke="#0000ff" d="M383.5,66.98 H418.8"/>
<path stroke="#008080" d="M383.5,86.17 H418.8"/>
<path stroke="#ff00ff" d="M383.5,105.36 H418.8"/>
<path stroke="#808000" d="M383.5,124.55 H418.8"/>
<path stroke="#000080" d="M383.5,143.74 H418.8"/>
<path stroke="#800000" d="M383.5,162.93 H418.8"/>
<path stroke="#ff0080" d="M383.5,182.12 H418.8"/>
<path stroke="#008000" d="M383.5,201.31 H418.8"/>
<path stroke="#0000a0" d="M383.5,220.50 H418.8"/>
<path stroke="#ff8000" d="M383.5,239.69 H418.8"/>
</g>
<g font-family="'Liberation Serif', 'Times New Roman', serif" font-size="15" letter-spacing="0.2" fill="#000">
<text transform="translate(422.6,33.25) scale(1.012,1)">440years</text>
<text transform="translate(422.6,52.46) scale(1.012,1)">220years</text>
<text transform="translate(422.6,71.67) scale(1.012,1)">140years</text>
<text transform="translate(422.6,90.88) scale(1.012,1)">50years</text>
<text transform="translate(422.6,110.09) scale(1.012,1)">Bottom<tspan dy="1.3">_</tspan><tspan dy="-1.3">layer</tspan></text>
<text transform="translate(422.6,129.30) scale(1.012,1)">Middle<tspan dy="1.3">_</tspan><tspan dy="-1.3">layer</tspan></text>
<text transform="translate(422.6,148.51) scale(1.012,1)">Top<tspan dy="1.3">_</tspan><tspan dy="-1.3">layer</tspan></text>
<text transform="translate(422.6,167.72) scale(1.012,1)">Luzhou</text>
<text transform="translate(422.6,186.93) scale(1.012,1)">Chengdu</text>
<text transform="translate(422.6,206.14) scale(1.012,1)">Mianyang</text>
<text transform="translate(422.6,225.35) scale(1.012,1)">Total</text>
<text transform="translate(422.6,244.56) scale(1.012,1)">Reference FramSoil</text>
</g>
<g font-family="'Liberation Serif', 'Times New Roman', serif" font-size="15" font-weight="bold" fill="#000">
<text transform="translate(52.8,332.40) scale(1.05,1)" text-anchor="end">0</text>
<text transform="translate(52.8,269.50) scale(1.05,1)" text-anchor="end">5</text>
<text transform="translate(52.8,206.60) scale(1.05,1)" text-anchor="end">10</text>
<text transform="translate(52.8,143.70) scale(1.05,1)" text-anchor="end">15</text>
<text transform="translate(52.8,80.80) scale(1.05,1)" text-anchor="end">20</text>
<text transform="translate(52.8,17.90) scale(1.05,1)" text-anchor="end">25</text>
<text transform="translate(64.60,350.6) scale(1.04,1)" text-anchor="middle">0</text>
<text transform="translate(149.94,350.6) scale(1.04,1)" text-anchor="middle">20</text>
<text transform="translate(235.28,350.6) scale(1.04,1)" text-anchor="middle">40</text>
<text transform="translate(320.62,350.6) scale(1.04,1)" text-anchor="middle">60</text>
<text transform="translate(405.96,350.6) scale(1.04,1)" text-anchor="middle">80</text>
<text transform="translate(491.30,350.6) scale(1.04,1)" text-anchor="middle">100</text>
</g>
<g font-family="'Liberation Serif', 'Times New Roman', serif" font-size="17" font-weight="bold" fill="#000">
<text transform="translate(277.8,378.4) scale(1.03,1)" text-anchor="middle">GC %</text>
<text transform="translate(17.5,161.4) rotate(-90)" text-anchor="middle">Relative Frequency %</text>
</g>
</svg>
</body></html>
